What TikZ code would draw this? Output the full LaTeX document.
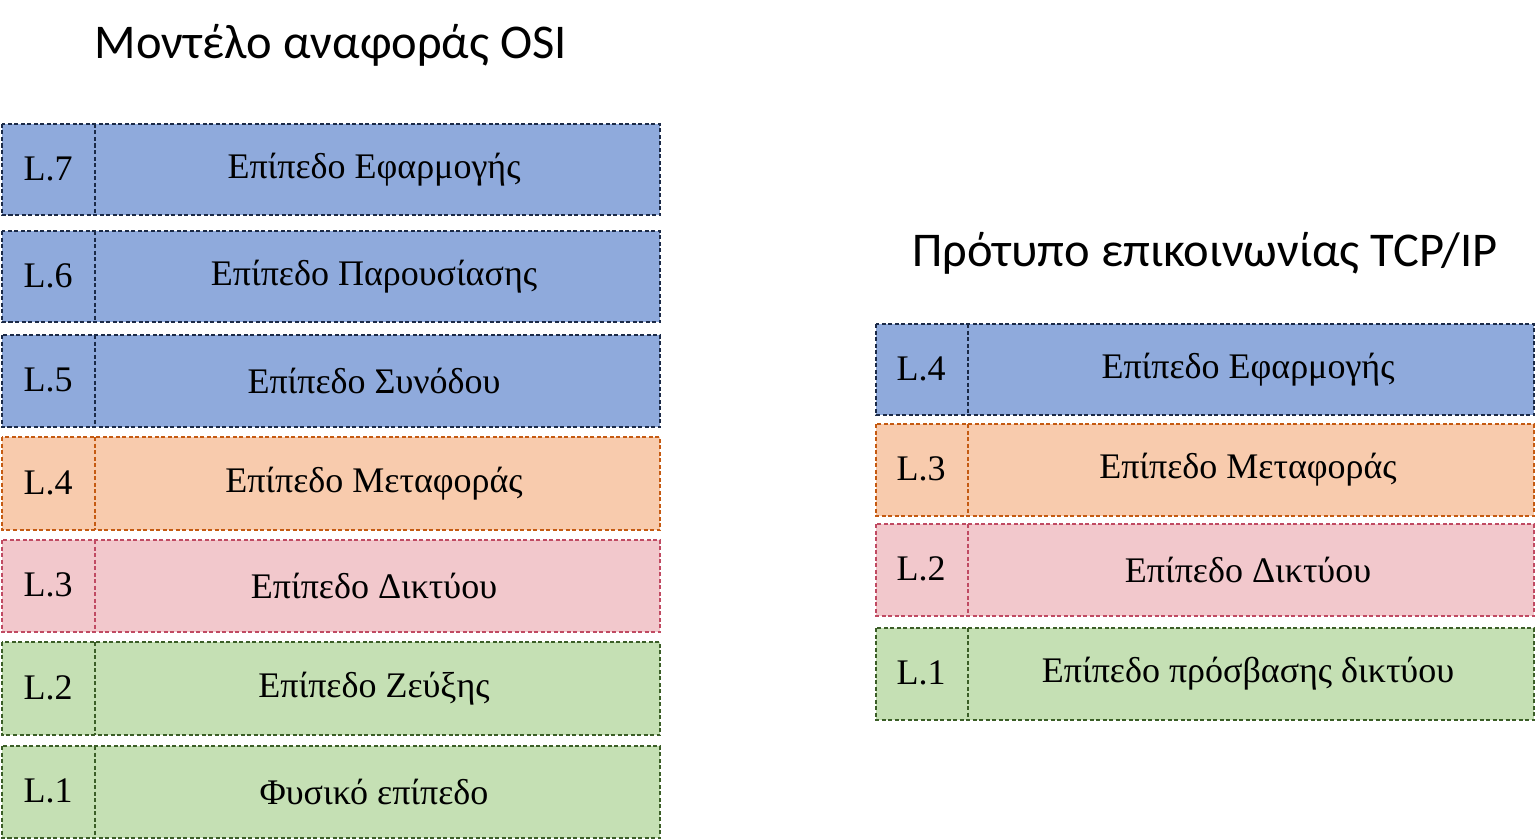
\documentclass[tikz,border=0pt]{standalone}
\usepackage{fontspec}
\setmainfont{Liberation Serif}
\newfontfamily\titlefont{Carlito}
\definecolor{bluefill}{HTML}{8FAADC}
\definecolor{blueline}{HTML}{1B2A47}
\definecolor{orangefill}{HTML}{F8CBAD}
\definecolor{orangeline}{HTML}{C55A11}
\definecolor{pinkfill}{HTML}{F2C8CC}
\definecolor{pinkline}{HTML}{C04A62}
\definecolor{greenfill}{HTML}{C5E0B4}
\definecolor{greenline}{HTML}{3B5E27}
\begin{document}
\begin{tikzpicture}[x=1pt,y=-1pt,
  lay/.style={line width=2.6pt, dash pattern=on 4pt off 2.5pt},
  bluel/.style={lay, draw=blueline, fill=bluefill},
  orangel/.style={lay, draw=orangeline, fill=orangefill},
  pinkl/.style={lay, draw=pinkline, fill=pinkfill},
  greenl/.style={lay, draw=greenline, fill=greenfill},
  txt/.style={font=\fontsize{36}{40}\selectfont, text=black},
  ttl/.style={font=\titlefont\fontsize{48.5}{54}\selectfont, text=black}]
\useasboundingbox (0,0) rectangle (1536,840);
\fill[white] (0,0) rectangle (1536,840);

\node[ttl] (t1) at (331,45) {Μοντέλο αναφοράς OSI};
\node[ttl] (t2) at (1205,253) {Πρότυπο επικοινωνίας TCP/IP};

% left stack
\foreach \st/\a/\b/\lab/\name in {
  bluel/124/215/L.7/Επίπεδο Εφαρμογής,
  bluel/231/322/L.6/Επίπεδο Παρουσίασης,
  bluel/335/427/L.5/Επίπεδο Συνόδου,
  orangel/437/530/L.4/Επίπεδο Μεταφοράς,
  pinkl/540/632/L.3/Επίπεδο Δικτύου,
  greenl/642/735/L.2/Επίπεδο Ζεύξης,
  greenl/746/838/L.1/Φυσικό επίπεδο}{
  \draw[\st] (2,\a) rectangle (660,\b);
  \draw[\st, fill=none] (95,\a) -- (95,\b);
  \node[txt] at (48,{(\a+\b)/2-1}) {\lab};
  \node[txt] at (374,{(\a+\b)/2}) {\name};
}

% right stack
\foreach \st/\a/\b/\lab/\name in {
  bluel/324/415/L.4/Επίπεδο Εφαρμογής,
  orangel/424/516/L.3/Επίπεδο Μεταφοράς,
  pinkl/524/616/L.2/Επίπεδο Δικτύου,
  greenl/628/720/L.1/Επίπεδο πρόσβασης δικτύου}{
  \draw[\st] (876,\a) rectangle (1534,\b);
  \draw[\st, fill=none] (968,\a) -- (968,\b);
  \node[txt] at (921,{(\a+\b)/2-1}) {\lab};
  \node[txt] at (1248,{(\a+\b)/2}) {\name};
}
\end{tikzpicture}
\end{document}
